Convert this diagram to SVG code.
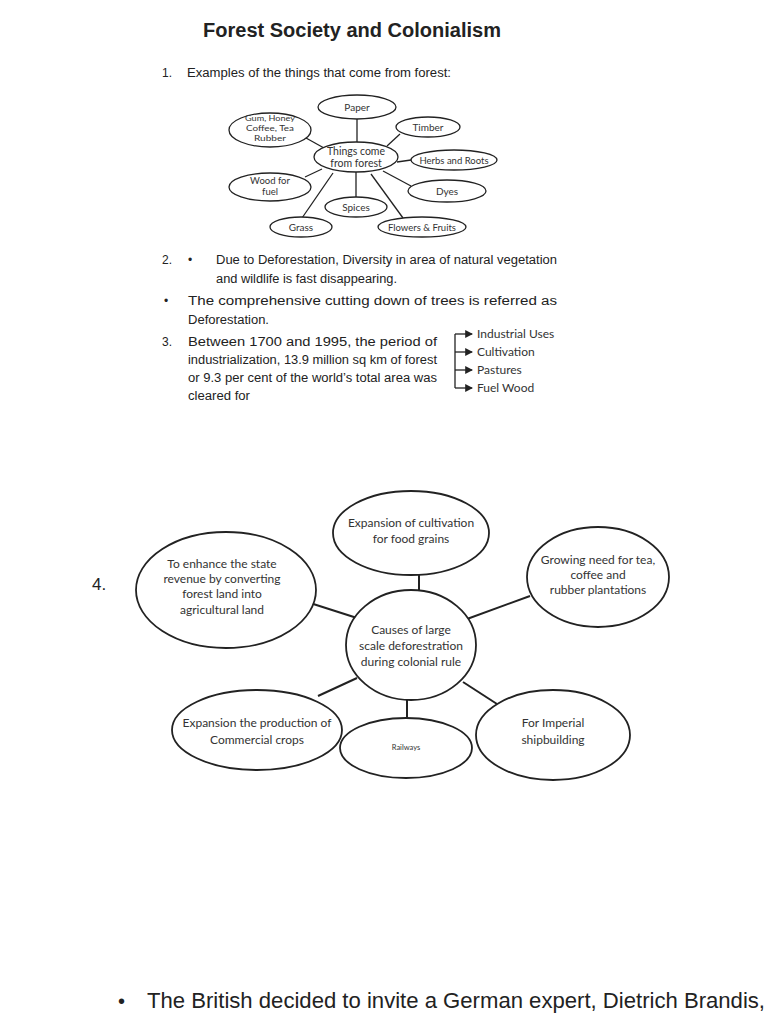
<svg xmlns="http://www.w3.org/2000/svg" width="768" height="1024" viewBox="0 0 768 1024">
<style>
.bg{fill:#fff}
.t{font-family:"Liberation Sans",Arial,sans-serif;fill:#222}
.n{fill:#fff;stroke:#222;stroke-width:1.3}
.nb{fill:#fff;stroke:#222;stroke-width:1.8}
.l{font-family:Lato,"Open Sans",sans-serif;fill:#333;text-anchor:middle}
.r{font-family:Lato,"Open Sans",sans-serif;fill:#333;text-anchor:start}
.c{stroke:#222;stroke-width:1.3;fill:none}
.cb{stroke:#222;stroke-width:2;fill:none}
</style>
<defs>
<marker id="ah" viewBox="0 0 8 8" refX="7" refY="4" markerWidth="6" markerHeight="6" orient="auto"><path d="M0,0 L8,4 L0,8 z" fill="#222"/></marker>
</defs>
<rect class="bg" width="768" height="1024"/>
<text class="t" x="352" y="37" font-size="20" font-weight="bold" text-anchor="middle">Forest Society and Colonialism</text>
<text class="t" x="162" y="77" font-size="12">1.</text>
<text class="t" x="187" y="77" font-size="12" textLength="264" lengthAdjust="spacingAndGlyphs">Examples of the things that come from forest:</text>

<g id="connectors1">
<line class="c" x1="357" y1="119" x2="357" y2="143"/>
<line class="c" x1="306" y1="138" x2="324" y2="148"/>
<line class="c" x1="400" y1="134" x2="387" y2="146"/>
<line class="c" x1="397" y1="162" x2="411" y2="160"/>
<line class="c" x1="305" y1="177" x2="322" y2="169"/>
<line class="c" x1="383" y1="171" x2="411" y2="186"/>
<line class="c" x1="356" y1="172" x2="356" y2="197"/>
<line class="c" x1="333" y1="173" x2="302" y2="218"/>
<line class="c" x1="371" y1="174" x2="403" y2="218"/>
</g>
<g id="n-paper"><ellipse class="n" cx="357" cy="107" rx="39" ry="12"/><text class="l" x="357" y="111" font-size="10">Paper</text></g>
<g id="n-gum"><ellipse class="n" cx="270" cy="130" rx="41" ry="17"/><text class="l" x="270" y="121" font-size="8" textLength="50" lengthAdjust="spacingAndGlyphs">Gum, Honey</text><text class="l" x="270" y="131" font-size="8" textLength="48" lengthAdjust="spacingAndGlyphs">Coffee, Tea</text><text class="l" x="270" y="141" font-size="8" textLength="32" lengthAdjust="spacingAndGlyphs">Rubber</text></g>
<g id="n-timber"><ellipse class="n" cx="428" cy="127" rx="32" ry="10"/><text class="l" x="428" y="131" font-size="10">Timber</text></g>
<g id="n-things"><ellipse class="n" cx="356" cy="157" rx="42" ry="15"/><text class="l" x="356" y="155" font-size="10.5">Things come</text><text class="l" x="356" y="167" font-size="10.5">from forest</text></g>
<g id="n-herbs"><ellipse class="n" cx="454" cy="160" rx="43" ry="10"/><text class="l" x="454" y="163.5" font-size="9.5">Herbs and Roots</text></g>
<g id="n-wood"><ellipse class="n" cx="270" cy="187" rx="41" ry="14"/><text class="l" x="270" y="184" font-size="9.5">Wood for</text><text class="l" x="270" y="195" font-size="9.5">fuel</text></g>
<g id="n-dyes"><ellipse class="n" cx="447" cy="191" rx="39" ry="11"/><text class="l" x="447" y="194.5" font-size="10">Dyes</text></g>
<g id="n-spices"><ellipse class="n" cx="356" cy="207" rx="31" ry="10"/><text class="l" x="356" y="210.5" font-size="10">Spices</text></g>
<g id="n-grass"><ellipse class="n" cx="301" cy="227" rx="31" ry="10"/><text class="l" x="301" y="230.5" font-size="10">Grass</text></g>
<g id="n-flowers"><ellipse class="n" cx="422" cy="227" rx="44" ry="10"/><text class="l" x="422" y="230.5" font-size="9.5">Flowers &amp; Fruits</text></g>

<text class="t" x="162" y="264" font-size="12">2.</text>
<text class="t" x="188" y="264" font-size="12">•</text>
<text class="t" x="216" y="264" font-size="12" textLength="341" lengthAdjust="spacingAndGlyphs">Due to Deforestation, Diversity in area of natural vegetation</text>
<text class="t" x="216" y="283" font-size="12" textLength="181" lengthAdjust="spacingAndGlyphs">and wildlife is fast disappearing.</text>
<text class="t" x="164" y="305" font-size="12">•</text>
<text class="t" x="188" y="305" font-size="12.5" textLength="369" lengthAdjust="spacingAndGlyphs">The comprehensive cutting down of trees is referred as</text>
<text class="t" x="188" y="324" font-size="12" textLength="81" lengthAdjust="spacingAndGlyphs">Deforestation.</text>
<text class="t" x="162" y="346" font-size="12">3.</text>
<text class="t" x="188" y="346" font-size="12.5" textLength="249" lengthAdjust="spacingAndGlyphs">Between 1700 and 1995, the period of</text>
<text class="t" x="188" y="364" font-size="12" textLength="249" lengthAdjust="spacingAndGlyphs">industrialization, 13.9 million sq km of forest</text>
<text class="t" x="188" y="382" font-size="12" textLength="249" lengthAdjust="spacingAndGlyphs">or 9.3 per cent of the world’s total area was</text>
<text class="t" x="188" y="400" font-size="12" textLength="62" lengthAdjust="spacingAndGlyphs">cleared for</text>

<g id="arrows3">
<line class="c" x1="455" y1="334" x2="455" y2="388"/>
<line class="c" x1="455" y1="334" x2="472" y2="334" marker-end="url(#ah)"/>
<line class="c" x1="455" y1="352" x2="472" y2="352" marker-end="url(#ah)"/>
<line class="c" x1="455" y1="370" x2="472" y2="370" marker-end="url(#ah)"/>
<line class="c" x1="455" y1="388" x2="472" y2="388" marker-end="url(#ah)"/>
</g>
<text class="r" x="477" y="338" font-size="12">Industrial Uses</text>
<text class="r" x="477" y="356" font-size="12">Cultivation</text>
<text class="r" x="477" y="374" font-size="12">Pastures</text>
<text class="r" x="477" y="392" font-size="12">Fuel Wood</text>

<text class="t" x="92" y="590" font-size="17">4.</text>

<g id="connectors4">
<line class="cb" x1="419" y1="575" x2="419" y2="592"/>
<line class="cb" x1="307" y1="602" x2="357" y2="618"/>
<line class="cb" x1="467" y1="619" x2="530" y2="596"/>
<line class="cb" x1="318" y1="696" x2="357" y2="678"/>
<line class="cb" x1="407" y1="700" x2="407" y2="718"/>
<line class="cb" x1="463" y1="682" x2="497" y2="704"/>
</g>
<g id="n-cultivation"><ellipse class="nb" cx="411" cy="533" rx="78" ry="42"/><text class="l" x="411" y="527" font-size="12">Expansion of cultivation</text><text class="l" x="411" y="543" font-size="12">for food grains</text></g>
<g id="n-revenue"><ellipse class="nb" cx="226" cy="590" rx="90" ry="58"/><text class="l" x="222" y="568" font-size="12">To enhance the state</text><text class="l" x="222" y="583" font-size="12">revenue by converting</text><text class="l" x="222" y="598" font-size="12">forest land into</text><text class="l" x="222" y="614" font-size="12">agricultural land</text></g>
<g id="n-tea"><ellipse class="nb" cx="598" cy="577" rx="71" ry="50"/><text class="l" x="598" y="564" font-size="12">Growing need for tea,</text><text class="l" x="598" y="579" font-size="12">coffee and</text><text class="l" x="598" y="594" font-size="12">rubber plantations</text></g>
<g id="n-causes"><ellipse class="nb" cx="411" cy="645" rx="65" ry="55"/><text class="l" x="411" y="634" font-size="12">Causes of large</text><text class="l" x="411" y="650" font-size="12">scale deforestration</text><text class="l" x="411" y="666" font-size="12">during colonial rule</text></g>
<g id="n-commercial"><ellipse class="nb" cx="257" cy="730" rx="85" ry="40"/><text class="l" x="257" y="727" font-size="12">Expansion the production of</text><text class="l" x="257" y="744" font-size="12">Commercial crops</text></g>
<g id="n-railways"><ellipse class="nb" cx="406" cy="748" rx="66" ry="30"/><text class="l" x="406" y="750" font-size="7.5">Railways</text></g>
<g id="n-ship"><ellipse class="nb" cx="553" cy="735" rx="77" ry="45"/><text class="l" x="553" y="727" font-size="12">For Imperial</text><text class="l" x="553" y="744" font-size="12">shipbuilding</text></g>

<text class="t" x="118" y="1008" font-size="20">•</text>
<text class="t" x="147" y="1008" font-size="22" textLength="618" lengthAdjust="spacingAndGlyphs">The British decided to invite a German expert, Dietrich Brandis,</text>
</svg>
